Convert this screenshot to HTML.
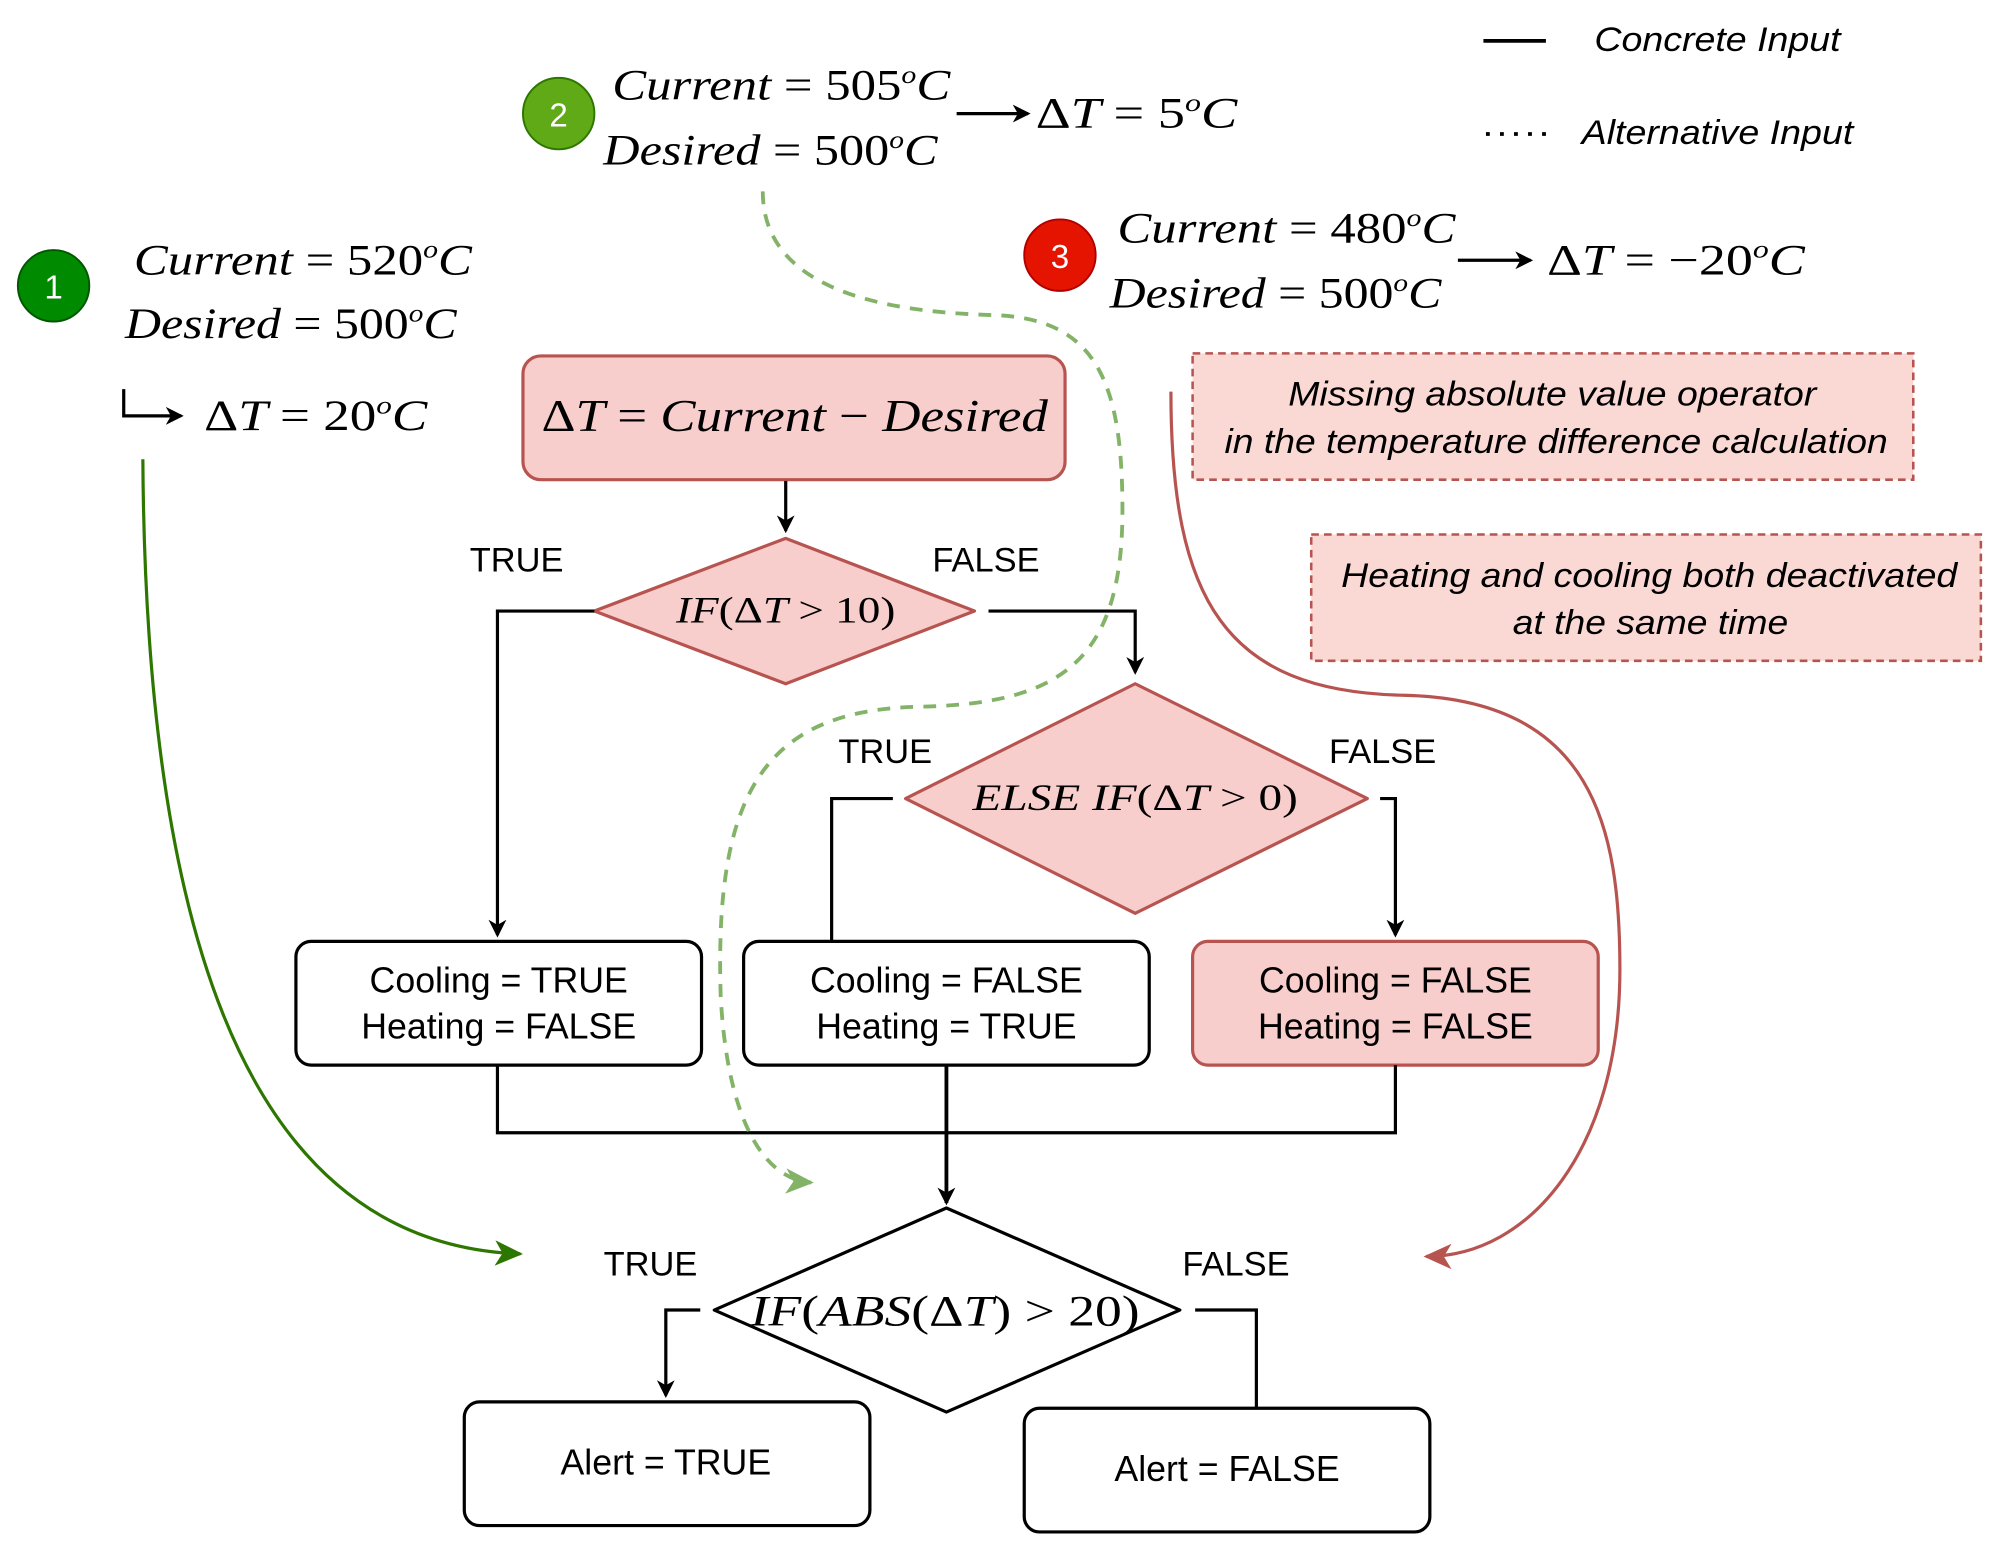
<!DOCTYPE html>
<html><head><meta charset="utf-8"><style>
html,body{margin:0;padding:0;background:#fff;}
svg{display:block;}
.m{font-family:"Liberation Serif",serif;font-style:italic;}
.n{font-style:normal;}
.s{font-family:"Liberation Sans",sans-serif;}
</style></head><body>
<svg width="2000" height="1555" viewBox="0 0 1568 1219" xmlns="http://www.w3.org/2000/svg">
<defs>
<marker id="ab" markerWidth="14" markerHeight="14" refX="12" refY="7" orient="auto" markerUnits="userSpaceOnUse"><path d="M0,0 L14,7 L0,14 L4,7 Z" fill="#000"/></marker>
<marker id="ag" markerWidth="22" markerHeight="20" refX="20" refY="10" orient="auto" markerUnits="userSpaceOnUse"><path d="M0,0 L22,10 L0,20 L6,10 Z" fill="#2d7600"/></marker>
<marker id="agl" markerWidth="22" markerHeight="20" refX="20" refY="10" orient="auto" markerUnits="userSpaceOnUse"><path d="M0,0 L22,10 L0,20 L6,10 Z" fill="#82b366"/></marker>
<marker id="ar" markerWidth="22" markerHeight="20" refX="20" refY="10" orient="auto" markerUnits="userSpaceOnUse"><path d="M0,0 L22,10 L0,20 L6,10 Z" fill="#b85450"/></marker>
</defs>

<!-- legend -->
<line x1="1163" y1="32" x2="1212" y2="32" stroke="#000" stroke-width="3"/>
<text x="1250" y="40" class="s" font-size="27" font-style="italic" textLength="193" lengthAdjust="spacingAndGlyphs">Concrete Input</text>
<line x1="1165" y1="105" x2="1215" y2="105" stroke="#000" stroke-width="3" stroke-dasharray="3,8"/>
<text x="1240" y="113" class="s" font-size="27" font-style="italic" textLength="213" lengthAdjust="spacingAndGlyphs">Alternative Input</text>

<!-- badge 1 -->
<circle cx="42" cy="224" r="28" fill="#008a00" stroke="#005700" stroke-width="1.5"/>
<text x="42" y="234" class="s" font-size="26" fill="#fff" text-anchor="middle">1</text>
<text x="105" y="215" class="m" font-size="34" textLength="265" lengthAdjust="spacingAndGlyphs">Current <tspan class="n">= 520</tspan><tspan font-size="20" dy="-13">o</tspan><tspan dy="13">C</tspan></text>
<text x="98" y="265" class="m" font-size="34" textLength="260" lengthAdjust="spacingAndGlyphs">Desired <tspan class="n">= 500</tspan><tspan font-size="20" dy="-13">o</tspan><tspan dy="13">C</tspan></text>
<path d="M97,305 L97,326 L142,326" fill="none" stroke="#000" stroke-width="2.5" marker-end="url(#ab)"/>
<text x="160" y="337" class="m" font-size="34" textLength="175" lengthAdjust="spacingAndGlyphs"><tspan class="n">Δ</tspan>T <tspan class="n">= 20</tspan><tspan font-size="20" dy="-13">o</tspan><tspan dy="13">C</tspan></text>

<!-- badge 2 -->
<circle cx="438" cy="89" r="28" fill="#60a917" stroke="#2d7600" stroke-width="1.5"/>
<text x="438" y="99" class="s" font-size="26" fill="#fff" text-anchor="middle">2</text>
<text x="480" y="78" class="m" font-size="34" textLength="265" lengthAdjust="spacingAndGlyphs">Current <tspan class="n">= 505</tspan><tspan font-size="20" dy="-13">o</tspan><tspan dy="13">C</tspan></text>
<text x="473" y="129" class="m" font-size="34" textLength="262" lengthAdjust="spacingAndGlyphs">Desired <tspan class="n">= 500</tspan><tspan font-size="20" dy="-13">o</tspan><tspan dy="13">C</tspan></text>
<line x1="750" y1="89" x2="806" y2="89" stroke="#000" stroke-width="2.5" marker-end="url(#ab)"/>
<text x="812" y="100" class="m" font-size="34" textLength="158" lengthAdjust="spacingAndGlyphs"><tspan class="n">Δ</tspan>T <tspan class="n">= 5</tspan><tspan font-size="20" dy="-13">o</tspan><tspan dy="13">C</tspan></text>

<!-- badge 3 -->
<circle cx="831" cy="200" r="28" fill="#e51400" stroke="#b20000" stroke-width="1.5"/>
<text x="831" y="210" class="s" font-size="26" fill="#fff" text-anchor="middle">3</text>
<text x="876" y="190" class="m" font-size="34" textLength="265" lengthAdjust="spacingAndGlyphs">Current <tspan class="n">= 480</tspan><tspan font-size="20" dy="-13">o</tspan><tspan dy="13">C</tspan></text>
<text x="870" y="241" class="m" font-size="34" textLength="260" lengthAdjust="spacingAndGlyphs">Desired <tspan class="n">= 500</tspan><tspan font-size="20" dy="-13">o</tspan><tspan dy="13">C</tspan></text>
<line x1="1143" y1="204" x2="1200" y2="204" stroke="#000" stroke-width="2.5" marker-end="url(#ab)"/>
<text x="1213" y="215" class="m" font-size="34" textLength="202" lengthAdjust="spacingAndGlyphs"><tspan class="n">Δ</tspan>T <tspan class="n">= −20</tspan><tspan font-size="20" dy="-13">o</tspan><tspan dy="13">C</tspan></text>

<!-- annotations -->
<rect x="935" y="277" width="565" height="99" fill="#fad9d5" stroke="#b85450" stroke-width="2" stroke-dasharray="6,4"/>
<text x="1217" y="318" class="s" font-size="27" font-style="italic" text-anchor="middle" textLength="414" lengthAdjust="spacingAndGlyphs">Missing absolute value operator</text>
<text x="1220" y="355" class="s" font-size="27" font-style="italic" text-anchor="middle" textLength="520" lengthAdjust="spacingAndGlyphs">in the temperature difference calculation</text>
<rect x="1028" y="419" width="525" height="99" fill="#fad9d5" stroke="#b85450" stroke-width="2" stroke-dasharray="6,4"/>
<text x="1293" y="460" class="s" font-size="27" font-style="italic" text-anchor="middle" textLength="483" lengthAdjust="spacingAndGlyphs">Heating and cooling both deactivated</text>
<text x="1294" y="497" class="s" font-size="27" font-style="italic" text-anchor="middle" textLength="216" lengthAdjust="spacingAndGlyphs">at the same time</text>

<!-- main box -->
<rect x="410" y="279" width="425" height="97" rx="14" fill="#f8cecc" stroke="#b85450" stroke-width="2.5"/>
<text x="623" y="338" class="m" font-size="36" text-anchor="middle" textLength="397" lengthAdjust="spacingAndGlyphs"><tspan class="n">Δ</tspan>T <tspan class="n">=</tspan> Current <tspan class="n">−</tspan> Desired</text>
<line x1="616" y1="377" x2="616" y2="416" stroke="#000" stroke-width="2.5" marker-end="url(#ab)"/>

<!-- diamond 1 -->
<path d="M466,479 L616,422 L764,479 L616,536 Z" fill="#f8cecc" stroke="#b85450" stroke-width="2.5" stroke-linejoin="round"/>
<text x="616" y="488" class="m" font-size="29" text-anchor="middle" textLength="172" lengthAdjust="spacingAndGlyphs">IF<tspan class="n">(Δ</tspan>T <tspan class="n">&gt; 10)</tspan></text>
<text x="405" y="448" class="s" font-size="27" text-anchor="middle">TRUE</text>
<text x="773" y="448" class="s" font-size="27" text-anchor="middle">FALSE</text>
<path d="M466,479 L390,479 L390,733" fill="none" stroke="#000" stroke-width="2.5" marker-end="url(#ab)"/>
<path d="M775,479 L890,479 L890,527" fill="none" stroke="#000" stroke-width="2.5" marker-end="url(#ab)"/>

<!-- diamond 2 -->
<path d="M710,626 L890,536 L1072,626 L890,716 Z" fill="#f8cecc" stroke="#b85450" stroke-width="2.5" stroke-linejoin="round"/>
<text x="890" y="635" class="m" font-size="29" text-anchor="middle" textLength="255" lengthAdjust="spacingAndGlyphs">ELSE  IF<tspan class="n">(Δ</tspan>T <tspan class="n">&gt; 0)</tspan></text>
<text x="694" y="598" class="s" font-size="27" text-anchor="middle">TRUE</text>
<text x="1084" y="598" class="s" font-size="27" text-anchor="middle">FALSE</text>
<path d="M700,626 L652,626 L652,738" fill="none" stroke="#000" stroke-width="2.5"/>
<path d="M1082,626 L1094,626 L1094,733" fill="none" stroke="#000" stroke-width="2.5" marker-end="url(#ab)"/>

<!-- action boxes -->
<rect x="232" y="738" width="318" height="97" rx="12" fill="#fff" stroke="#000" stroke-width="2.5"/>
<text x="391" y="778" class="s" font-size="28" text-anchor="middle">Cooling = TRUE</text>
<text x="391" y="814" class="s" font-size="28" text-anchor="middle">Heating = FALSE</text>
<rect x="583" y="738" width="318" height="97" rx="12" fill="#fff" stroke="#000" stroke-width="2.5"/>
<text x="742" y="778" class="s" font-size="28" text-anchor="middle">Cooling = FALSE</text>
<text x="742" y="814" class="s" font-size="28" text-anchor="middle">Heating = TRUE</text>
<rect x="935" y="738" width="318" height="97" rx="12" fill="#f8cecc" stroke="#b85450" stroke-width="2.5"/>
<text x="1094" y="778" class="s" font-size="28" text-anchor="middle">Cooling = FALSE</text>
<text x="1094" y="814" class="s" font-size="28" text-anchor="middle">Heating = FALSE</text>

<path d="M390,835 L390,888 L1094,888 L1094,835" fill="none" stroke="#000" stroke-width="2.5"/>
<line x1="742" y1="835" x2="742" y2="943" stroke="#000" stroke-width="3" marker-end="url(#ab)"/>

<!-- diamond 3 -->
<path d="M560,1027 L742,947 L925,1027 L742,1107 Z" fill="#fff" stroke="#000" stroke-width="2.5" stroke-linejoin="round"/>
<text x="741" y="1039" class="m" font-size="34" text-anchor="middle" textLength="305" lengthAdjust="spacingAndGlyphs">IF<tspan class="n">(</tspan>ABS<tspan class="n">(Δ</tspan>T<tspan class="n">) &gt; 20)</tspan></text>
<text x="510" y="1000" class="s" font-size="27" text-anchor="middle">TRUE</text>
<text x="969" y="1000" class="s" font-size="27" text-anchor="middle">FALSE</text>
<path d="M549,1027 L522,1027 L522,1094" fill="none" stroke="#000" stroke-width="2.5" marker-end="url(#ab)"/>
<path d="M937,1027 L985,1027 L985,1104" fill="none" stroke="#000" stroke-width="2.5"/>

<rect x="364" y="1099" width="318" height="97" rx="12" fill="#fff" stroke="#000" stroke-width="2.5"/>
<text x="522" y="1156" class="s" font-size="28" text-anchor="middle">Alert = TRUE</text>
<rect x="803" y="1104" width="318" height="97" rx="12" fill="#fff" stroke="#000" stroke-width="2.5"/>
<text x="962" y="1161" class="s" font-size="28" text-anchor="middle">Alert = FALSE</text>

<!-- curves -->
<path d="M112,360 C114,700 180,975 408,983" fill="none" stroke="#2d7600" stroke-width="2.5" marker-end="url(#ag)"/>
<path d="M598,150 C598,230 700,245 780,247 C860,250 880,300 880,400 C880,520 830,552 720,554 C600,557 560,620 565,780 C570,880 600,925 636,927" fill="none" stroke="#82b366" stroke-width="3" stroke-dasharray="10,8" marker-end="url(#agl)"/>
<path d="M918,307 C918,470 960,542 1100,545 C1250,548 1270,650 1270,760 C1270,900 1200,985 1118,985" fill="none" stroke="#b85450" stroke-width="2.5" marker-end="url(#ar)"/>
</svg>
</body></html>
